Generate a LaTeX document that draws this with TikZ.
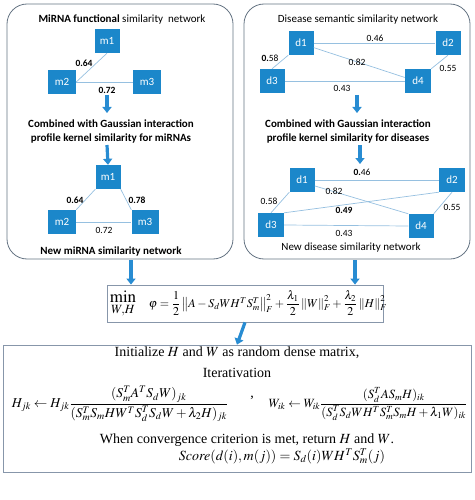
\documentclass[tikz,border=0pt]{standalone}
\usepackage{amsmath}
\usepackage{mathptmx}
\usepackage{fontspec}
\setmainfont{Liberation Serif}
\newfontfamily\carl{Carlito}
\usetikzlibrary{arrows.meta}
\definecolor{boxblue}{RGB}{27,135,202}
\definecolor{edgeblue}{RGB}{150,192,224}
\definecolor{arrblue}{RGB}{40,140,210}
\definecolor{panelline}{RGB}{100,115,130}
\definecolor{frameline}{RGB}{135,150,170}
\tikzset{
  nbox/.style={fill=boxblue,text=white,minimum width=25pt,minimum height=24pt,inner sep=0pt,font=\carl\fontsize{11}{12}\selectfont},
  edge/.style={draw=edgeblue,line width=0.7pt},
  elab/.style={font=\carl\fontsize{9.5}{10}\selectfont,inner sep=0pt},
  panel/.style={draw=panelline,line width=0.8pt,rounded corners=20pt},
  ptext/.style={font=\carl\fontsize{11}{13}\selectfont,inner sep=0pt,align=center},
  bigarrow/.style={draw=arrblue,line width=3.2pt,-{Triangle[width=9pt,length=6pt]}},
  frame/.style={draw=frameline,line width=0.8pt},
  btext/.style={font=\fontsize{14}{16}\selectfont,inner sep=0pt},
}
\begin{document}
\begin{tikzpicture}[x=1pt,y=-1pt]
\useasboundingbox (0,0) rectangle (474,500);
% panels
\draw[panel] (7,4) rectangle (233,259);
\draw[panel] (244,4) rectangle (470,259);
% ---- left panel
\node[ptext] (lt) at (122,20) {\textbf{MiRNA functional} similarity\ \ network};
\node[nbox] (m1) at (107,41) {m1};
\node[nbox,minimum width=28pt] (m2) at (62,82) {m2};
\node[nbox,minimum width=28pt] (m3) at (147,82) {m3};
\draw[edge] (m1.south) -- (m2.east);
\draw[edge] (m2.east) -- (m3.west);
\node[elab] at (84,63) {\textbf{0.64}};
\node[elab] at (107,90) {\textbf{0.72}};
\node[ptext,font=\carl\bfseries\fontsize{11}{14}\selectfont] (lc) at (111,131) {Combined with Gaussian interaction\\profile kernel similarity for miRNAs};
\coordinate (la1s) at (107,95);
\coordinate (la1e) at (107,113);
\draw[bigarrow] (la1s) -- (la1e);
\node[nbox] (n1) at (108,177) {m1};
\node[nbox,minimum width=28pt] (n2) at (62,222) {m2};
\node[nbox,minimum width=27pt] (n3) at (145,222) {m3};
\coordinate (la2s) at (107,145);
\draw[bigarrow] (la2s) -- (n1.north);
\draw[edge] (n1.south west) -- (n2.north east);
\draw[edge] (n1.south east) -- (n3.north west);
\draw[edge] (n2.east) -- (n3.west);
\node[elab] at (75,200) {\textbf{0.64}};
\node[elab] at (137,200) {\textbf{0.78}};
\node[elab] at (104,230) {0.72};
\node[ptext,font=\carl\fontsize{11}{13}\selectfont\bfseries] (ln) at (111,252) {New miRNA similarity network};
% ---- right panel
\node[ptext] (rt) at (358,20) {Disease semantic similarity network};
\node[nbox] (d1) at (301,43) {d1};
\node[nbox] (d2) at (448,43) {d2};
\node[nbox] (d3) at (272,81) {d3};
\node[nbox,minimum width=26pt] (d4) at (418,81) {d4};
\draw[edge] (d1.east) -- (d2.west);
\draw[edge] (d1.-20) -- (d4.165);
\draw[edge] (d1.south west) -- (d3.north);
\draw[edge] (d2.south) -- (d4.north east);
\draw[edge] (d3.east) -- (d4.west);
\node[elab] at (375,38) {0.46};
\node[elab] at (357,62) {0.82};
\node[elab] at (270,58) {\textbf{0.}58};
\node[elab] at (448,68) {0.55};
\node[elab] at (342,88) {0.43};
\node[ptext,font=\carl\bfseries\fontsize{11}{14}\selectfont] (rc) at (348,131) {Combined with Gaussian interaction\\profile kernel similarity for diseases};
\coordinate (ra1s) at (357,95);
\coordinate (ra1e) at (357,113);
\draw[bigarrow] (ra1s) -- (ra1e);
\coordinate (ra2s) at (360,145);
\coordinate (ra2e) at (360,164);
\draw[bigarrow] (ra2s) -- (ra2e);
\node[nbox] (e1) at (302,180) {d1};
\node[nbox,minimum width=26pt] (e2) at (452,180) {d2};
\node[nbox,minimum width=26pt] (e3) at (271,225) {d3};
\node[nbox] (e4) at (421,226) {d4};
\draw[edge] (e1.east) -- (e2.west);
\draw[edge] (e1.-25) -- (e4.north west);
\draw[edge] (e1.south west) -- (e3.north);
\draw[edge] (e2.south west) -- (e3.north east);
\draw[edge] (e2.south) -- (e4.north east);
\draw[edge] (e3.east) -- (e4.west);
\node[elab] at (362,172) {\textbf{0.}46};
\node[elab] at (334,191) {0.82};
\node[elab] at (269,201) {0.58};
\node[elab] at (344,210) {\textbf{0.49}};
\node[elab] at (452,207) {0.55};
\node[elab] at (344,233) {0.43};
\node[ptext] (rn) at (351,248) {New disease similarity network};
% ---- arrows to formula
\node[frame,minimum width=276pt,minimum height=37pt,inner sep=0pt] (fb) at (245,303.5) {};
\coordinate (la3s) at (131,260);
\coordinate (ra3s) at (355,260);
\draw[bigarrow] (la3s) -- (la3s |- fb.north);
\draw[bigarrow] (ra3s) -- (ra3s |- fb.north);
\node[inner sep=0pt,font=\fontsize{17}{18}\selectfont] (fmin) at (123,304) {$\min\limits_{W,H}$};
\node[inner sep=0pt,font=\fontsize{12}{14}\selectfont] (ffun) at (268,303) {$\varphi=\dfrac{1}{2}\left\|A-S_dWH^TS_m^T\right\|_F^2+\dfrac{\lambda_1}{2}\left\|W\right\|_F^2+\dfrac{\lambda_2}{2}\left\|H\right\|_F^2$};
% ---- bottom box
\node[frame,minimum width=468pt,minimum height=127pt,inner sep=0pt] (bb) at (237,408.5) {};
\draw[bigarrow] (fb.south) -- (bb.north);
\node[btext] (t1) at (237,353) {Initialize $H$ and $W$ as random dense matrix,};
\node[btext] (t2) at (237,373) {Iterativation};
\node[inner sep=0pt,font=\fontsize{13.5}{15}\selectfont] (t3) at (120,404) {$H_{jk}\leftarrow H_{jk}\dfrac{(S_m^TA^TS_dW)_{jk}}{(S_m^TS_mHW^TS_d^TS_dW+\lambda_2H)_{jk}}$};
\node[btext] (t4) at (252,398) {,};
\node[inner sep=0pt,font=\fontsize{12.6}{14}\selectfont] (t5) at (368,404) {$W_{ik}\leftarrow W_{ik}\dfrac{(S_d^TAS_mH)_{ik}}{(S_d^TS_dWH^TS_m^TS_mH+\lambda_1W)_{ik}}$};
\node[btext] (t6) at (247,440) {When convergence criterion is met, return $H$ and $W$.};
\node[btext] (t7) at (282,456) {$\mathit{Score}(d(i),m(j))=S_d(i)WH^TS_m^T(j)$};
\end{tikzpicture}
\end{document}
